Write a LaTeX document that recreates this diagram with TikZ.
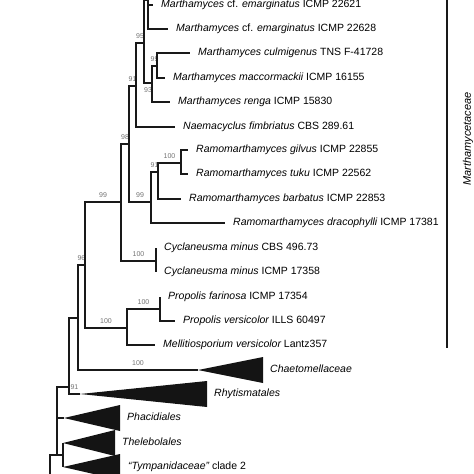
\documentclass[tikz,border=0pt]{standalone}
\usepackage{fontspec}
\setmainfont{Liberation Sans}
\begin{document}
\begin{tikzpicture}[x=1pt,y=-1pt,
  br/.style={draw=black!90,line width=1.9pt},
  tip/.style={anchor=west,inner xsep=8pt,inner ysep=0pt,text height=7.6pt,text depth=2pt,font=\fontsize{10.5}{12}\selectfont},
  clade/.style={anchor=west,inner xsep=7pt,inner ysep=0pt,text height=7.6pt,text depth=2pt,font=\fontsize{10.5}{12}\selectfont\itshape},
  sup/.style={font=\fontsize{7}{7}\selectfont,text=black!55,inner sep=0pt,above=3.4pt},
  supb/.style={font=\fontsize{7}{7}\selectfont,text=black!55,inner sep=0pt,below=3.4pt},
  tri/.style={fill=black!92}]
\useasboundingbox (0,0) rectangle (474,474);
\clip (0,0) rectangle (474,474);
% internal nodes (x = node, y = attachment)
\coordinate (nT) at (50,490);
\coordinate (nQ) at (57,455);
\coordinate (nS) at (63,455);
\coordinate (nP) at (69,387);
\coordinate (nO) at (78,318);
\coordinate (nL) at (85,265);
\coordinate (nJ) at (121,202);
\coordinate (nF) at (129,144);
\coordinate (nE) at (136,86);
\coordinate (nB) at (144,43);
\coordinate (nA) at (148,0);
\coordinate (nC) at (152,83);
\coordinate (nD) at (157,66);
\coordinate (nG) at (151,202);
\coordinate (nH) at (158,172);
\coordinate (nI) at (181,163);
\coordinate (nK) at (156,261);
\coordinate (nM) at (127,328);
\coordinate (nN) at (160,309);
% tips
\node[tip] (t1) at (153,5) {\itshape Marthamyces \upshape cf. \itshape emarginatus \upshape ICMP 22621};
\node[tip] (t2) at (168,29) {\itshape Marthamyces \upshape cf. \itshape emarginatus \upshape ICMP 22628};
\node[tip] (t3) at (190,53) {\itshape Marthamyces culmigenus \upshape TNS F-41728};
\node[tip] (t4) at (165,78) {\itshape Marthamyces maccormackii \upshape ICMP 16155};
\node[tip] (t5) at (170,102) {\itshape Marthamyces renga \upshape ICMP 15830};
\node[tip] (t6) at (175,127) {\itshape Naemacyclus fimbriatus \upshape CBS 289.61};
\node[tip] (t7) at (188,150) {\itshape Ramomarthamyces gilvus \upshape ICMP 22855};
\node[tip] (t8) at (188,174) {\itshape Ramomarthamyces tuku \upshape ICMP 22562};
\node[tip] (t9) at (181,199) {\itshape Ramomarthamyces barbatus \upshape ICMP 22853};
\node[tip] (t10) at (225,223) {\itshape Ramomarthamyces dracophylli \upshape ICMP 17381};
\node[tip] (t11) at (156,248) {\itshape Cyclaneusma minus \upshape CBS 496.73};
\node[tip] (t12) at (156,272) {\itshape Cyclaneusma minus \upshape ICMP 17358};
\node[tip] (t13) at (160,297) {\itshape Propolis farinosa \upshape ICMP 17354};
\node[tip] (t14) at (175,321) {\itshape Propolis versicolor \upshape ILLS 60497};
\node[tip] (t15) at (155,345) {\itshape Mellitiosporium versicolor \upshape Lantz357};
% collapsed clades
\coordinate (aCh) at (198,370);
\coordinate (aRh) at (80,394);
\coordinate (aPh) at (64,418);
\coordinate (aTh) at (63,443);
\coordinate (aTy) at (63,467);
\fill[tri] (aCh) -- ++(65,-13) coordinate (rCh) -- ++(0,26) -- cycle;
\fill[tri] (aRh) -- ++(127,-13) coordinate (rRh) -- ++(0,26) -- cycle;
\fill[tri] (aPh) -- ++(56,-13) coordinate (rPh) -- ++(0,26) -- cycle;
\fill[tri] (aTh) -- ++(52,-13) coordinate (rTh) -- ++(0,26) -- cycle;
\fill[tri] (aTy) -- ++(57,-13) coordinate (rTy) -- ++(0,26) -- cycle;
\node[clade] (cCh) at ([yshift=-13pt]rCh) {Chaetomellaceae};
\node[clade] (cRh) at ([yshift=-13pt]rRh) {Rhytismatales};
\node[clade] (cPh) at ([yshift=-13pt]rPh) {Phacidiales};
\node[clade] (cTh) at ([yshift=-13pt]rTh) {Thelebolales};
\node[clade,inner xsep=8pt] (cTy) at ([yshift=-13pt]rTy) {``Tympanidaceae'' \upshape clade 2};
% branches
\draw[br] (nT) |- (nQ);
\draw[br] (nQ) |- (nP);
\draw[br] (nQ) |- (aPh);
\draw[br] (nQ) |- (nS);
\draw[br] (nS) |- (aTh);
\draw[br] (nS) |- (aTy);
\draw[br] (nP) |- (nO);
\draw[br] (nP) |- node[sup,pos=0.75]{91} (aRh);
\draw[br] (nO) |- node[sup,pos=0.75]{96} (nL);
\draw[br] (nO) |- node[sup,pos=0.75]{100} (aCh);
\draw[br] (nL) |- node[sup,pos=0.75]{99} (nJ);
\draw[br] (nL) |- node[sup,pos=0.75]{100} (nM);
\draw[br] (nM) |- node[sup,pos=0.75]{100} (nN);
\draw[br] (nM) |- (t15.west);
\draw[br] (nN) |- (t13.west);
\draw[br] (nN) |- (t14.west);
\draw[br] (nJ) |- node[sup,pos=0.75]{98} (nF);
\draw[br] (nJ) |- node[sup,pos=0.75]{100} (nK);
\draw[br] (nK) |- (t11.west);
\draw[br] (nK) |- (t12.west);
\draw[br] (nF) |- node[sup,pos=0.75]{91} (nE);
\draw[br] (nF) |- node[sup,pos=0.75]{99} (nG);
\draw[br] (nG) |- node[sup,pos=0.75]{91} (nH);
\draw[br] (nG) |- (t10.west);
\draw[br] (nH) |- node[sup,pos=0.75]{100} (nI);
\draw[br] (nH) |- (t9.west);
\draw[br] (nI) |- (t7.west);
\draw[br] (nI) |- (t8.west);
\draw[br] (nE) |- node[sup,pos=0.75]{95} (nB);
\draw[br] (nE) |- (t6.west);
\draw[br] (nB) |- (nA);
\draw[br] (nB) |- node[supb,pos=0.75]{93} (nC);
\draw[br] (nC) |- node[sup,pos=0.75]{99} (nD);
\draw[br] (nC) |- (t5.west);
\draw[br] (nD) |- (t3.west);
\draw[br] (nD) |- (t4.west);
\draw[br] (nA) |- (t1.west);
\draw[br] (nA) |- (t2.west);
\node[sup] at (143,0) {99};
% family bar
\coordinate (barTop) at (447,-2);
\coordinate (barBot) at (447,348);
\draw[br] (barTop) -- (barBot);
\node[rotate=90,font=\fontsize{11}{12}\selectfont\itshape,inner sep=0pt] (fam) at (468,139) {Marthamycetaceae};
\end{tikzpicture}
\end{document}
